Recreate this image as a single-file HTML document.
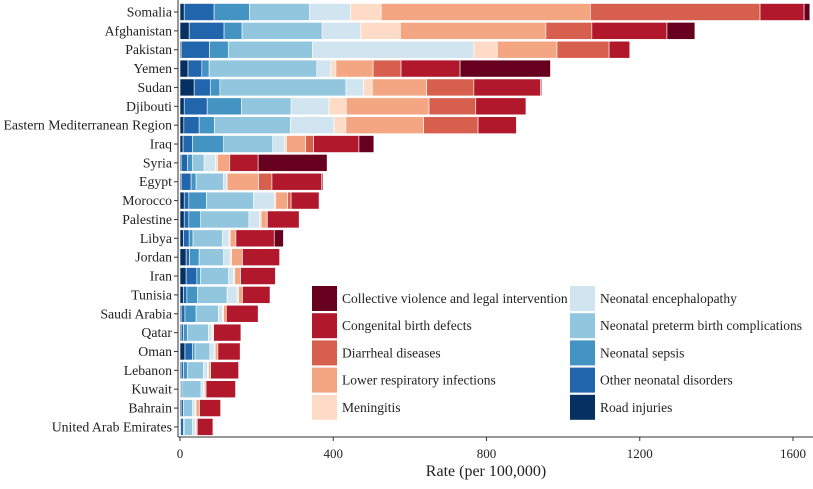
<!DOCTYPE html>
<html><head><meta charset="utf-8"><style>
body{margin:0;background:#fff;}
svg text{font-family:"Liberation Serif",serif;fill:#222;}
</style></head><body>
<svg id="chart" width="813" height="484"></svg>
<script>
const countries=["Somalia","Afghanistan","Pakistan","Yemen","Sudan","Djibouti","Eastern Mediterranean Region","Iraq","Syria","Egypt","Morocco","Palestine","Libya","Jordan","Iran","Tunisia","Saudi Arabia","Qatar","Oman","Lebanon","Kuwait","Bahrain","United Arab Emirates"];
const causes=["Road injuries","Other neonatal disorders","Neonatal sepsis","Neonatal preterm birth complications","Neonatal encephalopathy","Meningitis","Lower respiratory infections","Diarrheal diseases","Congenital birth defects","Collective violence and legal intervention"];
const colors=["#053061","#2166ac","#4393c3","#92c5de","#d1e5f0","#fddbc7","#f4a582","#d6604d","#b2182b","#67001f"];
const roadInjuries=[11,24,3,21,37,11,10,8,3,3,11,11,9,16,16,9,3,3,13,3,2,3,2];
const otherNeonatal=[78,91,74,36,42,60,40,25,17,26,12,12,15,9,28,9,10,6,20,6,3,6,7];
const neonatalSepsis=[92,47,49,19,25,89,40,81,13,13,46,31,10,25,9,28,29,10,6,10,0,0,2];
const neonatalPreterm=[157,209,220,281,329,130,198,128,30,71,123,126,77,64,74,77,58,55,39,42,50,24,22];
const neonatalEnceph=[107,101,421,37,46,99,114,30,30,9,54,28,17,17,13,26,11,9,11,11,7,6,7];
const meningitis=[80,103,61,13,23,45,31,6,5,1,4,4,3,4,3,4,3,3,3,3,2,3,2];
const lowerResp=[546,380,156,97,142,216,203,50,32,82,31,13,15,28,15,10,7,2,7,5,4,9,3];
const diarrheal=[443,120,136,73,123,122,142,21,0,35,9,3,0,0,0,0,0,0,0,0,0,0,0];
const congenital=[115,196,54,154,174,131,100,118,74,130,73,83,100,97,91,72,83,71,58,73,77,55,41];
const violence=[15,73,0,236,3,0,0,39,180,3,0,0,24,0,0,0,0,0,0,0,0,0,0];
const series=[roadInjuries,otherNeonatal,neonatalSepsis,neonatalPreterm,neonatalEnceph,meningitis,lowerResp,diarrheal,congenital,violence];
const xTicks=[0,400,800,1200,1600];

const NS="http://www.w3.org/2000/svg";
const svg=document.getElementById('chart');
const x0=180, x1=793, xmax=1600;
const xs=v=>x0+v*(x1-x0)/xmax;
const ys=i=>12+i*18.86;
const bh=17;
function mk(t,a){const e=document.createElementNS(NS,t);for(const k in a)e.setAttribute(k,a[k]);svg.appendChild(e);return e;}

countries.forEach((c,i)=>{
  let acc=0;
  series.forEach((s,j)=>{
    const v=s[i];
    if(v>0){
      const r=mk('rect',{x:xs(acc),y:ys(i)-bh/2,width:xs(acc+v)-xs(acc),height:bh,fill:colors[j],stroke:'#fff','stroke-width':0.6});
      
      
    }
    acc+=v;
  });
  const t=mk('text',{x:172,y:ys(i)+4.5,'text-anchor':'end','font-size':13.8});
  t.textContent=c;
  
  
  const tk=mk('line',{x1:174,x2:178,y1:ys(i),y2:ys(i),stroke:'#333'});
  
  
});
const ya=mk('line',{x1:178,x2:178,y1:0,y2:437,stroke:'#333'});

const xa=mk('line',{x1:178,x2:813,y1:437,y2:437,stroke:'#333'});

xTicks.forEach(v=>{
  const l=mk('line',{x1:xs(v),x2:xs(v),y1:437,y2:441,stroke:'#333'});
  
  const t=mk('text',{x:xs(v),y:458,'text-anchor':'middle','font-size':13});
  t.textContent=v;
  
});
const xt=mk('text',{x:486,y:476,'text-anchor':'middle','font-size':16});
xt.textContent='Rate (per 100,000)';


const legOrder=[9,8,7,6,5,4,3,2,1,0];
legOrder.forEach((j,k)=>{
  const col=k<5?0:1, row=k%5;
  const lx=col?570:312, ly=286+row*27.2;
  const r=mk('rect',{x:lx,y:ly,width:25,height:25,fill:colors[j]});
  
  const t=mk('text',{x:lx+30,y:ly+17,'font-size':13.5});
  t.textContent=causes[j];
  
});
</script>
</body></html>
